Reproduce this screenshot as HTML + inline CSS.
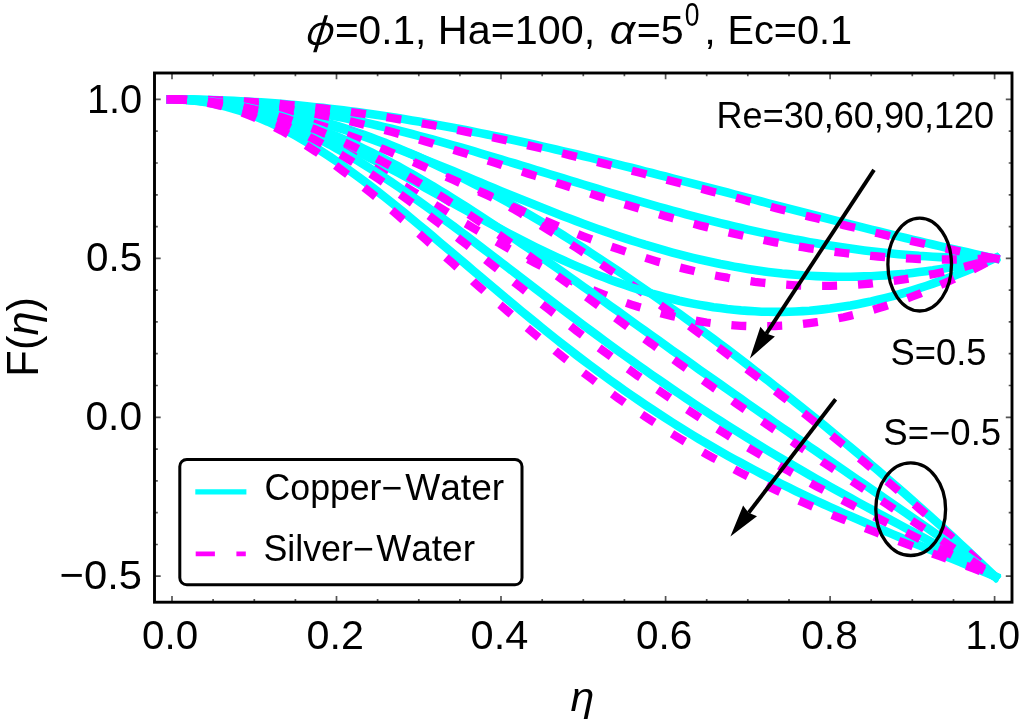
<!DOCTYPE html>
<html><head><meta charset="utf-8"><title>F(eta) velocity profiles</title>
<style>
html,body{margin:0;padding:0;background:#fff;}
body{width:1024px;height:722px;overflow:hidden;}
svg{display:block;}
text{font-family:"Liberation Sans","DejaVu Sans",sans-serif;fill:#000;font-kerning:none;}
.phi{font-family:"DejaVu Sans Light","DejaVu Sans",sans-serif;stroke:#000;stroke-width:1.1px;}
</style></head><body>
<svg width="1024" height="722" viewBox="0 0 1024 722">
<rect width="1024" height="722" fill="#fff"/>
<!-- curves: cyan solid = Copper-Water, magenta dashed = Silver-Water -->
<g fill="none" stroke-linejoin="round">
<path stroke="#00ffff" stroke-width="8.6" d="M166.7,99.4 L172.0,99.4 L178.9,99.4 L185.7,99.6 L192.6,99.8 L199.4,100.1 L206.3,100.6 L213.1,101.1 L220.0,101.7 L226.8,102.4 L233.7,103.2 L240.6,104.0 L247.4,105.0 L254.3,106.1 L261.1,107.2 L268.0,108.5 L274.8,109.8 L281.7,111.2 L288.5,112.7 L295.4,114.3 L302.2,116.0 L309.1,117.8 L316.0,119.6 L322.8,121.6 L329.7,123.6 L336.5,125.7 L343.4,127.9 L350.2,130.1 L357.1,132.5 L363.9,134.9 L370.8,137.4 L377.6,140.0 L384.5,142.6 L391.4,145.4 L398.2,148.2 L405.1,151.1 L411.9,154.0 L418.8,157.0 L425.6,160.1 L432.5,163.3 L439.3,166.5 L446.2,169.8 L453.1,173.2 L459.9,176.6 L466.8,180.1 L473.6,183.7 L480.5,187.3 L487.3,190.9 L494.2,194.7 L501.0,198.5 L507.9,202.3 L514.8,206.2 L521.6,210.2 L528.5,214.2 L535.3,218.2 L542.2,222.3 L549.0,226.5 L555.9,230.7 L562.7,235.0 L569.6,239.3 L576.4,243.6 L583.3,248.0 L590.2,252.5 L597.0,257.0 L603.9,261.5 L610.7,266.1 L617.6,270.7 L624.4,275.3 L631.3,280.0 L638.1,284.7 L645.0,289.5 L651.9,294.3 L658.7,299.1 L665.6,304.0 L672.4,308.9 L679.3,313.8 L686.1,318.8 L693.0,323.8 L699.8,328.9 L706.7,333.9 L713.5,339.0 L720.4,344.2 L727.3,349.3 L734.1,354.5 L741.0,359.7 L747.8,365.0 L754.7,370.3 L761.5,375.6 L768.4,380.9 L775.2,386.3 L782.1,391.7 L789.0,397.1 L795.8,402.6 L802.7,408.1 L809.5,413.6 L816.4,419.2 L823.2,424.7 L830.1,430.4 L836.9,436.0 L843.8,441.7 L850.6,447.4 L857.5,453.1 L864.4,458.9 L871.2,464.7 L878.1,470.6 L884.9,476.4 L891.8,482.4 L898.6,488.3 L905.5,494.3 L912.3,500.3 L919.2,506.4 L926.0,512.5 L932.9,518.7 L939.8,524.9 L946.6,531.1 L953.5,537.4 L960.3,543.8 L967.2,550.2 L974.0,556.6 L980.9,563.1 L987.7,569.6 L994.6,576.2 L998.4,579.9"/>
<path stroke="#ff00ff" stroke-width="8.3" d="M166.7,99.4 L172.0,99.4 L178.9,99.4 L185.7,99.6 L187.0,99.6 M207.9,100.7 L213.1,101.1 L220.0,101.8 L222.8,102.1 M243.5,104.7 L247.4,105.3 L254.3,106.4 L258.3,107.1 M278.9,111.1 L281.7,111.7 L288.5,113.3 L293.5,114.5 M313.7,119.8 L316.0,120.5 L322.8,122.5 L328.1,124.1 M347.9,130.6 L350.2,131.4 L357.1,133.8 L362.0,135.6 M381.5,143.1 L384.5,144.3 L391.4,147.2 L395.4,148.9 M414.5,157.3 L418.8,159.2 L425.6,162.4 L428.1,163.6 M446.9,172.8 L453.1,175.8 L460.3,179.6 M478.7,189.4 L480.5,190.3 L487.3,194.1 L491.9,196.6 M510.0,207.0 L514.8,209.7 L521.6,213.8 L523.0,214.6 M540.9,225.4 L542.2,226.2 L549.0,230.4 L553.6,233.3 M571.2,244.5 L576.4,247.9 L583.8,252.7 M601.3,264.2 L603.9,266.0 L610.7,270.6 L613.7,272.6 M630.9,284.4 L638.1,289.4 L643.2,293.0 M660.3,305.0 L665.6,308.8 L672.5,313.8 M689.4,326.0 L693.0,328.6 L699.8,333.7 L701.5,334.9 M718.3,347.4 L720.4,348.9 L727.3,354.1 L730.3,356.4 M746.9,369.0 L747.8,369.7 L754.7,374.9 L758.9,378.1 M775.4,390.9 L782.1,396.1 L787.2,400.1 M803.6,413.1 L809.5,417.7 L815.4,422.4 M831.7,435.5 L836.9,439.8 L843.3,444.9 M859.5,458.2 L864.4,462.2 L871.0,467.8 M887.1,481.2 L891.8,485.1 L898.5,490.8 M914.4,504.4 L919.2,508.5 L925.8,514.2 M941.5,528.0 L946.6,532.6 L952.7,538.0 M968.2,552.0 L974.0,557.2 L979.3,562.1"/>
<path stroke="#00ffff" stroke-width="8.6" d="M166.7,99.4 L172.0,99.4 L178.9,99.4 L185.7,99.5 L192.6,99.6 L199.4,99.7 L206.3,99.8 L213.1,100.0 L220.0,100.3 L226.8,100.5 L233.7,100.8 L240.6,101.2 L247.4,101.6 L254.3,102.0 L261.1,102.4 L268.0,102.9 L274.8,103.4 L281.7,103.9 L288.5,104.5 L295.4,105.1 L302.2,105.8 L309.1,106.5 L316.0,107.2 L322.8,107.9 L329.7,108.7 L336.5,109.5 L343.4,110.3 L350.2,111.2 L357.1,112.1 L363.9,113.0 L370.8,114.0 L377.6,115.0 L384.5,116.0 L391.4,117.1 L398.2,118.1 L405.1,119.2 L411.9,120.4 L418.8,121.5 L425.6,122.7 L432.5,123.9 L439.3,125.2 L446.2,126.4 L453.1,127.7 L459.9,129.0 L466.8,130.3 L473.6,131.7 L480.5,133.1 L487.3,134.5 L494.2,135.9 L501.0,137.3 L507.9,138.8 L514.8,140.3 L521.6,141.8 L528.5,143.3 L535.3,144.8 L542.2,146.4 L549.0,147.9 L555.9,149.5 L562.7,151.1 L569.6,152.7 L576.4,154.3 L583.3,156.0 L590.2,157.6 L597.0,159.3 L603.9,161.0 L610.7,162.7 L617.6,164.4 L624.4,166.1 L631.3,167.8 L638.1,169.5 L645.0,171.3 L651.9,173.0 L658.7,174.8 L665.6,176.5 L672.4,178.3 L679.3,180.1 L686.1,181.8 L693.0,183.6 L699.8,185.4 L706.7,187.2 L713.5,189.0 L720.4,190.7 L727.3,192.5 L734.1,194.3 L741.0,196.1 L747.8,197.9 L754.7,199.7 L761.5,201.5 L768.4,203.3 L775.2,205.1 L782.1,206.9 L789.0,208.6 L795.8,210.4 L802.7,212.2 L809.5,214.0 L816.4,215.7 L823.2,217.5 L830.1,219.2 L836.9,221.0 L843.8,222.7 L850.6,224.4 L857.5,226.2 L864.4,227.9 L871.2,229.6 L878.1,231.3 L884.9,233.0 L891.8,234.6 L898.6,236.3 L905.5,238.0 L912.3,239.6 L919.2,241.2 L926.0,242.9 L932.9,244.5 L939.8,246.1 L946.6,247.7 L953.5,249.2 L960.3,250.8 L967.2,252.3 L974.0,253.9 L980.9,255.4 L987.7,256.9 L994.6,258.4 L999.8,259.5"/>
<path stroke="#00ffff" stroke-width="8.6" d="M166.7,99.4 L172.0,99.4 L178.9,99.4 L185.7,99.5 L192.6,99.7 L199.4,99.9 L206.3,100.2 L213.1,100.5 L220.0,100.9 L226.8,101.4 L233.7,101.9 L240.6,102.5 L247.4,103.1 L254.3,103.8 L261.1,104.6 L268.0,105.4 L274.8,106.3 L281.7,107.2 L288.5,108.2 L295.4,109.2 L302.2,110.3 L309.1,111.5 L316.0,112.6 L322.8,113.9 L329.7,115.2 L336.5,116.5 L343.4,117.9 L350.2,119.3 L357.1,120.8 L363.9,122.3 L370.8,123.9 L377.6,125.5 L384.5,127.1 L391.4,128.8 L398.2,130.5 L405.1,132.2 L411.9,134.0 L418.8,135.8 L425.6,137.7 L432.5,139.5 L439.3,141.4 L446.2,143.3 L453.1,145.3 L459.9,147.2 L466.8,149.2 L473.6,151.2 L480.5,153.3 L487.3,155.3 L494.2,157.3 L501.0,159.4 L507.9,161.5 L514.8,163.5 L521.6,165.6 L528.5,167.7 L535.3,169.8 L542.2,171.9 L549.0,174.0 L555.9,176.1 L562.7,178.2 L569.6,180.3 L576.4,182.4 L583.3,184.5 L590.2,186.6 L597.0,188.7 L603.9,190.8 L610.7,192.8 L617.6,194.9 L624.4,196.9 L631.3,198.9 L638.1,200.9 L645.0,202.9 L651.9,204.8 L658.7,206.8 L665.6,208.7 L672.4,210.6 L679.3,212.4 L686.1,214.3 L693.0,216.1 L699.8,217.9 L706.7,219.6 L713.5,221.4 L720.4,223.1 L727.3,224.7 L734.1,226.4 L741.0,228.0 L747.8,229.6 L754.7,231.1 L761.5,232.6 L768.4,234.1 L775.2,235.5 L782.1,236.9 L789.0,238.2 L795.8,239.6 L802.7,240.8 L809.5,242.1 L816.4,243.3 L823.2,244.4 L830.1,245.5 L836.9,246.6 L843.8,247.6 L850.6,248.6 L857.5,249.5 L864.4,250.4 L871.2,251.2 L878.1,252.0 L884.9,252.8 L891.8,253.5 L898.6,254.2 L905.5,254.8 L912.3,255.3 L919.2,255.9 L926.0,256.3 L932.9,256.7 L939.8,257.1 L946.6,257.4 L953.5,257.7 L960.3,257.9 L967.2,258.1 L974.0,258.3 L980.9,258.3 L987.7,258.4 L994.6,258.3 L999.9,258.3"/>
<path stroke="#00ffff" stroke-width="8.6" d="M166.7,99.4 L172.0,99.4 L178.9,99.5 L185.7,99.6 L192.6,99.9 L199.4,100.2 L206.3,100.7 L213.1,101.3 L220.0,101.9 L226.8,102.7 L233.7,103.6 L240.6,104.5 L247.4,105.6 L254.3,106.8 L261.1,108.0 L268.0,109.3 L274.8,110.8 L281.7,112.3 L288.5,113.9 L295.4,115.6 L302.2,117.4 L309.1,119.2 L316.0,121.1 L322.8,123.1 L329.7,125.2 L336.5,127.3 L343.4,129.5 L350.2,131.8 L357.1,134.1 L363.9,136.5 L370.8,138.9 L377.6,141.4 L384.5,143.9 L391.4,146.5 L398.2,149.1 L405.1,151.8 L411.9,154.5 L418.8,157.2 L425.6,159.9 L432.5,162.7 L439.3,165.5 L446.2,168.3 L453.1,171.1 L459.9,174.0 L466.8,176.8 L473.6,179.7 L480.5,182.5 L487.3,185.4 L494.2,188.2 L501.0,191.1 L507.9,193.9 L514.8,196.7 L521.6,199.5 L528.5,202.3 L535.3,205.1 L542.2,207.8 L549.0,210.6 L555.9,213.3 L562.7,215.9 L569.6,218.6 L576.4,221.1 L583.3,223.7 L590.2,226.2 L597.0,228.7 L603.9,231.1 L610.7,233.5 L617.6,235.8 L624.4,238.1 L631.3,240.4 L638.1,242.5 L645.0,244.7 L651.9,246.7 L658.7,248.7 L665.6,250.7 L672.4,252.6 L679.3,254.4 L686.1,256.2 L693.0,257.9 L699.8,259.5 L706.7,261.0 L713.5,262.5 L720.4,264.0 L727.3,265.3 L734.1,266.6 L741.0,267.8 L747.8,268.9 L754.7,270.0 L761.5,271.0 L768.4,271.9 L775.2,272.7 L782.1,273.5 L789.0,274.1 L795.8,274.7 L802.7,275.3 L809.5,275.7 L816.4,276.1 L823.2,276.4 L830.1,276.6 L836.9,276.7 L843.8,276.8 L850.6,276.7 L857.5,276.6 L864.4,276.4 L871.2,276.2 L878.1,275.8 L884.9,275.4 L891.8,274.9 L898.6,274.3 L905.5,273.7 L912.3,272.9 L919.2,272.1 L926.0,271.2 L932.9,270.3 L939.8,269.2 L946.6,268.1 L953.5,267.0 L960.3,265.7 L967.2,264.4 L974.0,263.0 L980.9,261.5 L987.7,260.0 L994.6,258.3 L999.8,257.1"/>
<path stroke="#00ffff" stroke-width="8.6" d="M166.7,99.3 L172.0,99.4 L178.9,99.5 L185.7,99.7 L192.6,100.1 L199.4,100.7 L206.3,101.4 L213.1,102.3 L220.0,103.3 L226.8,104.5 L233.7,105.8 L240.6,107.3 L247.4,108.9 L254.3,110.7 L261.1,112.6 L268.0,114.6 L274.8,116.8 L281.7,119.1 L288.5,121.5 L295.4,124.0 L302.2,126.7 L309.1,129.4 L316.0,132.3 L322.8,135.2 L329.7,138.3 L336.5,141.4 L343.4,144.7 L350.2,148.0 L357.1,151.4 L363.9,154.8 L370.8,158.3 L377.6,161.9 L384.5,165.5 L391.4,169.1 L398.2,172.8 L405.1,176.6 L411.9,180.3 L418.8,184.1 L425.6,187.9 L432.5,191.7 L439.3,195.5 L446.2,199.4 L453.1,203.2 L459.9,207.0 L466.8,210.8 L473.6,214.6 L480.5,218.3 L487.3,222.0 L494.2,225.7 L501.0,229.4 L507.9,233.0 L514.8,236.6 L521.6,240.1 L528.5,243.6 L535.3,247.0 L542.2,250.3 L549.0,253.6 L555.9,256.9 L562.7,260.0 L569.6,263.1 L576.4,266.1 L583.3,269.0 L590.2,271.9 L597.0,274.7 L603.9,277.3 L610.7,279.9 L617.6,282.4 L624.4,284.8 L631.3,287.2 L638.1,289.4 L645.0,291.5 L651.9,293.6 L658.7,295.5 L665.6,297.3 L672.4,299.0 L679.3,300.7 L686.1,302.2 L693.0,303.6 L699.8,304.9 L706.7,306.1 L713.5,307.2 L720.4,308.1 L727.3,309.0 L734.1,309.7 L741.0,310.4 L747.8,310.9 L754.7,311.3 L761.5,311.7 L768.4,311.8 L775.2,311.9 L782.1,311.9 L789.0,311.8 L795.8,311.5 L802.7,311.1 L809.5,310.7 L816.4,310.1 L823.2,309.4 L830.1,308.6 L836.9,307.6 L843.8,306.6 L850.6,305.5 L857.5,304.2 L864.4,302.8 L871.2,301.4 L878.1,299.8 L884.9,298.1 L891.8,296.4 L898.6,294.5 L905.5,292.5 L912.3,290.4 L919.2,288.2 L926.0,286.0 L932.9,283.6 L939.8,281.1 L946.6,278.6 L953.5,275.9 L960.3,273.2 L967.2,270.4 L974.0,267.5 L980.9,264.5 L987.7,261.5 L994.6,258.3 L999.4,256.2"/>
<path stroke="#ff00ff" stroke-width="8.3" d="M166.7,99.4 L172.0,99.4 L178.9,99.4 L185.7,99.5 L187.0,99.5 M207.9,99.9 L213.1,100.1 L220.0,100.3 L222.9,100.4 M243.8,101.5 L247.4,101.7 L254.3,102.1 L258.7,102.4 M279.6,104.0 L281.7,104.2 L288.5,104.8 L294.5,105.4 M315.3,107.5 L322.8,108.4 L330.2,109.3 M350.9,112.0 L357.1,112.8 L363.9,113.8 L365.8,114.1 M386.4,117.2 L391.4,118.0 L398.2,119.2 L401.2,119.7 M421.8,123.3 L425.6,124.0 L432.5,125.2 L436.6,126.0 M457.1,130.0 L459.9,130.5 L466.8,131.9 L471.8,133.0 M492.2,137.3 L494.2,137.7 L501.0,139.2 L506.9,140.5 M527.3,145.1 L528.5,145.4 L535.3,147.0 L541.9,148.5 M562.2,153.3 L569.6,155.1 L576.8,156.9 M597.1,161.9 L603.9,163.6 L611.6,165.6 M631.9,170.7 L638.1,172.3 L645.0,174.1 L646.4,174.5 M666.6,179.7 L672.4,181.2 L679.3,183.0 L681.2,183.5 M701.4,188.8 L706.7,190.1 L713.5,191.9 L715.9,192.5 M736.1,197.8 L741.0,199.1 L747.8,200.9 L750.6,201.6 M770.9,206.8 L775.2,207.9 L782.1,209.7 L785.4,210.5 M805.7,215.7 L809.5,216.6 L816.4,218.3 L820.2,219.3 M840.5,224.3 L843.8,225.1 L850.6,226.8 L855.1,227.8 M875.4,232.7 L878.1,233.3 L884.9,234.9 L890.0,236.1 M910.4,240.7 L912.3,241.2 L919.2,242.7 L925.0,244.0 M945.5,248.4 L946.6,248.6 L953.5,250.1 L960.2,251.5 M980.6,255.6 L987.7,257.0 L994.6,258.3 L999.8,259.4"/>
<path stroke="#ff00ff" stroke-width="8.3" d="M166.7,99.4 L172.0,99.4 L178.9,99.4 L185.7,99.5 L187.0,99.6 M207.9,100.3 L213.1,100.6 L220.0,101.1 L222.9,101.3 M243.7,103.1 L247.4,103.5 L254.3,104.3 L258.6,104.8 M279.3,107.7 L281.7,108.0 L288.5,109.1 L294.1,110.1 M314.7,113.8 L316.0,114.0 L322.8,115.4 L329.4,116.8 M349.8,121.3 L357.1,123.0 L364.3,124.8 M384.6,130.0 L391.4,131.8 L399.1,133.9 M419.2,139.5 L425.6,141.4 L432.5,143.4 L433.6,143.8 M453.6,149.8 L459.9,151.8 L466.8,153.9 L467.9,154.3 M487.8,160.6 L494.2,162.6 L501.0,164.8 L502.1,165.2 M522.0,171.6 L528.5,173.7 L535.3,175.9 L536.3,176.2 M556.2,182.7 L562.7,184.8 L570.4,187.3 M590.3,193.6 L597.0,195.7 L604.7,198.1 M624.6,204.2 L631.3,206.2 L639.0,208.5 M659.1,214.3 L665.6,216.2 L672.4,218.1 L673.5,218.4 M693.7,223.8 L699.8,225.4 L706.7,227.1 L708.3,227.5 M728.6,232.4 L734.1,233.7 L741.0,235.2 L743.2,235.7 M763.6,240.0 L768.4,241.0 L775.2,242.3 L778.4,242.9 M798.9,246.6 L802.7,247.2 L809.5,248.3 L813.8,248.9 M834.5,251.9 L836.9,252.2 L843.8,253.0 L849.3,253.7 M870.1,255.8 L871.2,255.9 L878.1,256.5 L885.1,257.1 M905.9,258.4 L912.3,258.7 L919.2,259.0 L920.9,259.0 M941.8,259.5 L946.6,259.5 L953.5,259.5 L956.8,259.5 M977.7,259.0 L980.9,258.9 L987.7,258.7 L992.7,258.4"/>
<path stroke="#ff00ff" stroke-width="8.3" d="M166.7,99.4 L172.0,99.4 L178.9,99.5 L185.7,99.6 L187.0,99.7 M207.9,101.0 L213.1,101.5 L220.0,102.3 L222.8,102.6 M243.4,105.8 L247.4,106.5 L254.3,107.8 L258.2,108.6 M278.5,113.3 L281.7,114.1 L288.5,115.9 L293.0,117.1 M313.0,123.1 L316.0,124.1 L322.8,126.3 L327.3,127.8 M347.0,134.9 L350.2,136.1 L357.1,138.7 L361.0,140.2 M380.4,148.0 L384.5,149.7 L391.4,152.5 L394.2,153.8 M413.4,162.0 L418.8,164.4 L425.6,167.4 L427.1,168.1 M446.2,176.7 L453.1,179.8 L459.9,182.9 M478.9,191.5 L480.5,192.2 L487.3,195.3 L492.6,197.7 M511.6,206.2 L514.8,207.6 L521.6,210.6 L525.4,212.3 M544.6,220.5 L549.0,222.4 L555.9,225.3 L558.4,226.3 M577.8,234.1 L583.3,236.3 L590.2,238.9 L591.8,239.5 M611.4,246.7 L617.6,248.8 L624.4,251.2 L625.6,251.6 M645.5,257.9 L651.9,259.9 L658.7,261.9 L659.9,262.2 M680.1,267.6 L686.1,269.1 L693.0,270.8 L694.6,271.2 M715.1,275.5 L720.4,276.5 L727.3,277.7 L729.8,278.2 M750.5,281.2 L754.7,281.8 L761.5,282.6 L765.4,283.0 M786.2,284.7 L789.0,284.9 L795.8,285.3 L801.2,285.5 M822.1,285.9 L823.2,285.9 L830.1,285.8 L837.1,285.6 M858.0,284.6 L864.4,284.1 L871.2,283.5 L872.9,283.3 M893.7,280.9 L898.6,280.2 L905.5,279.2 L908.5,278.7 M929.1,274.9 L932.9,274.2 L939.8,272.7 L943.8,271.8 M964.1,266.9 L967.2,266.1 L974.0,264.3 L978.6,263.0"/>
<path stroke="#ff00ff" stroke-width="8.3" d="M166.7,99.3 L172.0,99.4 L178.9,99.5 L185.7,99.8 L187.0,99.9 M207.8,101.9 L213.1,102.7 L220.0,103.9 L222.6,104.4 M242.9,109.1 L247.4,110.3 L254.3,112.3 L257.3,113.3 M277.1,120.1 L281.7,121.9 L288.5,124.6 L291.0,125.6 M310.1,134.1 L316.0,136.9 L323.6,140.6 M342.2,150.2 L343.4,150.8 L350.2,154.6 L355.4,157.4 M373.5,167.7 L377.6,170.1 L384.5,174.2 L386.5,175.3 M404.4,186.1 L411.9,190.7 L417.2,193.9 M435.0,204.8 L439.3,207.4 L446.2,211.6 L447.8,212.6 M465.7,223.5 L466.8,224.1 L473.6,228.2 L478.6,231.1 M496.6,241.7 L501.0,244.2 L507.9,248.1 L509.7,249.1 M528.0,259.1 L535.3,263.0 L541.3,266.1 M560.0,275.4 L562.7,276.7 L569.6,279.9 L573.6,281.8 M592.7,290.1 L597.0,291.9 L603.9,294.6 L606.7,295.7 M626.3,302.9 L631.3,304.6 L638.1,306.8 L640.6,307.5 M660.7,313.2 L665.6,314.5 L672.4,316.1 L675.2,316.7 M695.7,320.7 L699.8,321.4 L706.7,322.5 L710.6,323.0 M731.4,325.2 L734.1,325.4 L741.0,325.8 L746.3,326.0 M767.2,326.2 L768.4,326.2 L775.2,326.0 L782.2,325.7 M803.0,323.9 L809.5,323.1 L816.4,322.2 L817.9,322.0 M838.5,318.3 L843.8,317.2 L850.6,315.6 L853.1,315.0 M873.3,309.7 L878.1,308.3 L884.9,306.2 L887.7,305.3 M907.4,298.4 L912.3,296.5 L919.2,293.9 L921.4,293.0 M940.6,284.9 L946.6,282.2 L954.3,278.7 M973.1,269.5 L974.0,269.1 L980.9,265.6 L986.4,262.7"/>
<path stroke="#00ffff" stroke-width="8.6" d="M166.7,99.3 L172.0,99.4 L178.9,99.5 L185.7,99.7 L192.6,100.0 L199.4,100.5 L206.3,101.1 L213.1,101.8 L220.0,102.7 L226.8,103.7 L233.7,104.8 L240.6,106.0 L247.4,107.4 L254.3,108.9 L261.1,110.6 L268.0,112.3 L274.8,114.2 L281.7,116.2 L288.5,118.3 L295.4,120.5 L302.2,122.9 L309.1,125.3 L316.0,127.9 L322.8,130.6 L329.7,133.4 L336.5,136.2 L343.4,139.2 L350.2,142.3 L357.1,145.5 L363.9,148.8 L370.8,152.1 L377.6,155.6 L384.5,159.1 L391.4,162.7 L398.2,166.4 L405.1,170.2 L411.9,174.1 L418.8,178.0 L425.6,182.0 L432.5,186.0 L439.3,190.2 L446.2,194.3 L453.1,198.6 L459.9,202.9 L466.8,207.2 L473.6,211.6 L480.5,216.1 L487.3,220.5 L494.2,225.1 L501.0,229.6 L507.9,234.3 L514.8,238.9 L521.6,243.6 L528.5,248.3 L535.3,253.0 L542.2,257.7 L549.0,262.5 L555.9,267.3 L562.7,272.1 L569.6,277.0 L576.4,281.8 L583.3,286.7 L590.2,291.6 L597.0,296.4 L603.9,301.3 L610.7,306.2 L617.6,311.1 L624.4,316.0 L631.3,320.9 L638.1,325.9 L645.0,330.8 L651.9,335.7 L658.7,340.6 L665.6,345.5 L672.4,350.4 L679.3,355.3 L686.1,360.1 L693.0,365.0 L699.8,369.9 L706.7,374.7 L713.5,379.6 L720.4,384.4 L727.3,389.3 L734.1,394.1 L741.0,398.9 L747.8,403.7 L754.7,408.5 L761.5,413.3 L768.4,418.1 L775.2,422.9 L782.1,427.7 L789.0,432.4 L795.8,437.2 L802.7,441.9 L809.5,446.7 L816.4,451.4 L823.2,456.1 L830.1,460.8 L836.9,465.6 L843.8,470.3 L850.6,475.0 L857.5,479.7 L864.4,484.4 L871.2,489.1 L878.1,493.9 L884.9,498.6 L891.8,503.3 L898.6,508.1 L905.5,512.8 L912.3,517.6 L919.2,522.3 L926.0,527.1 L932.9,531.9 L939.8,536.8 L946.6,541.6 L953.5,546.5 L960.3,551.4 L967.2,556.3 L974.0,561.2 L980.9,566.2 L987.7,571.2 L994.6,576.3 L998.9,579.4"/>
<path stroke="#00ffff" stroke-width="8.6" d="M166.7,99.3 L172.0,99.4 L178.9,99.5 L185.7,99.8 L192.6,100.2 L199.4,100.9 L206.3,101.7 L213.1,102.7 L220.0,103.8 L226.8,105.2 L233.7,106.7 L240.6,108.4 L247.4,110.2 L254.3,112.3 L261.1,114.5 L268.0,116.8 L274.8,119.3 L281.7,122.0 L288.5,124.8 L295.4,127.8 L302.2,130.9 L309.1,134.1 L316.0,137.5 L322.8,141.0 L329.7,144.6 L336.5,148.4 L343.4,152.2 L350.2,156.2 L357.1,160.3 L363.9,164.5 L370.8,168.8 L377.6,173.1 L384.5,177.6 L391.4,182.2 L398.2,186.8 L405.1,191.5 L411.9,196.3 L418.8,201.1 L425.6,206.0 L432.5,210.9 L439.3,215.9 L446.2,221.0 L453.1,226.0 L459.9,231.2 L466.8,236.3 L473.6,241.5 L480.5,246.7 L487.3,251.9 L494.2,257.1 L501.0,262.4 L507.9,267.6 L514.8,272.9 L521.6,278.2 L528.5,283.4 L535.3,288.7 L542.2,293.9 L549.0,299.2 L555.9,304.4 L562.7,309.6 L569.6,314.8 L576.4,319.9 L583.3,325.1 L590.2,330.2 L597.0,335.3 L603.9,340.4 L610.7,345.4 L617.6,350.4 L624.4,355.4 L631.3,360.3 L638.1,365.2 L645.0,370.0 L651.9,374.9 L658.7,379.6 L665.6,384.4 L672.4,389.1 L679.3,393.8 L686.1,398.4 L693.0,403.0 L699.8,407.5 L706.7,412.0 L713.5,416.5 L720.4,420.9 L727.3,425.3 L734.1,429.6 L741.0,433.9 L747.8,438.2 L754.7,442.4 L761.5,446.6 L768.4,450.8 L775.2,454.9 L782.1,459.0 L789.0,463.0 L795.8,467.0 L802.7,471.0 L809.5,475.0 L816.4,478.9 L823.2,482.8 L830.1,486.7 L836.9,490.5 L843.8,494.3 L850.6,498.1 L857.5,501.9 L864.4,505.7 L871.2,509.4 L878.1,513.2 L884.9,516.9 L891.8,520.6 L898.6,524.3 L905.5,528.0 L912.3,531.6 L919.2,535.3 L926.0,539.0 L932.9,542.7 L939.8,546.4 L946.6,550.0 L953.5,553.7 L960.3,557.4 L967.2,561.2 L974.0,564.9 L980.9,568.7 L987.7,572.4 L994.6,576.2 L999.2,578.8"/>
<path stroke="#00ffff" stroke-width="8.6" d="M166.7,99.3 L172.0,99.4 L178.9,99.5 L185.7,99.9 L192.6,100.5 L199.4,101.3 L206.3,102.3 L213.1,103.6 L220.0,105.1 L226.8,106.8 L233.7,108.8 L240.6,111.0 L247.4,113.4 L254.3,115.9 L261.1,118.7 L268.0,121.7 L274.8,124.9 L281.7,128.3 L288.5,131.8 L295.4,135.6 L302.2,139.5 L309.1,143.5 L316.0,147.7 L322.8,152.1 L329.7,156.6 L336.5,161.3 L343.4,166.0 L350.2,170.9 L357.1,175.9 L363.9,181.0 L370.8,186.2 L377.6,191.5 L384.5,196.8 L391.4,202.3 L398.2,207.8 L405.1,213.4 L411.9,219.0 L418.8,224.7 L425.6,230.4 L432.5,236.1 L439.3,241.9 L446.2,247.7 L453.1,253.5 L459.9,259.3 L466.8,265.1 L473.6,270.9 L480.5,276.8 L487.3,282.6 L494.2,288.3 L501.0,294.1 L507.9,299.8 L514.8,305.5 L521.6,311.2 L528.5,316.9 L535.3,322.4 L542.2,328.0 L549.0,333.5 L555.9,339.0 L562.7,344.4 L569.6,349.7 L576.4,355.0 L583.3,360.2 L590.2,365.4 L597.0,370.5 L603.9,375.6 L610.7,380.6 L617.6,385.5 L624.4,390.4 L631.3,395.2 L638.1,399.9 L645.0,404.6 L651.9,409.2 L658.7,413.7 L665.6,418.1 L672.4,422.5 L679.3,426.9 L686.1,431.1 L693.0,435.3 L699.8,439.5 L706.7,443.5 L713.5,447.5 L720.4,451.5 L727.3,455.4 L734.1,459.2 L741.0,462.9 L747.8,466.6 L754.7,470.3 L761.5,473.9 L768.4,477.4 L775.2,480.9 L782.1,484.3 L789.0,487.7 L795.8,491.1 L802.7,494.4 L809.5,497.6 L816.4,500.8 L823.2,504.0 L830.1,507.1 L836.9,510.2 L843.8,513.3 L850.6,516.3 L857.5,519.3 L864.4,522.3 L871.2,525.2 L878.1,528.1 L884.9,531.0 L891.8,533.9 L898.6,536.7 L905.5,539.6 L912.3,542.4 L919.2,545.2 L926.0,548.0 L932.9,550.8 L939.8,553.6 L946.6,556.4 L953.5,559.2 L960.3,562.1 L967.2,564.9 L974.0,567.7 L980.9,570.5 L987.7,573.4 L994.6,576.2 L999.5,578.3"/>
<path stroke="#ff00ff" stroke-width="8.3" d="M166.7,99.3 L172.0,99.4 L178.9,99.5 L185.7,99.7 L187.0,99.8 M207.8,101.4 L213.1,102.0 L220.0,102.9 L222.7,103.3 M243.3,107.1 L247.4,108.0 L254.3,109.6 L257.9,110.5 M278.0,116.1 L281.7,117.3 L288.5,119.5 L292.2,120.8 M311.8,128.1 L316.0,129.7 L322.8,132.6 L325.7,133.8 M344.7,142.4 L350.2,145.0 L357.1,148.3 L358.2,148.9 M376.8,158.5 L384.5,162.7 L390.0,165.7 M408.1,176.1 L411.9,178.4 L418.8,182.5 L421.0,183.8 M438.7,194.8 L446.2,199.6 L451.4,202.9 M468.8,214.4 L473.6,217.6 L481.3,222.7 M498.6,234.5 L501.0,236.2 L507.9,241.0 L510.9,243.1 M528.0,255.1 L535.3,260.3 L540.2,263.8 M557.2,275.9 L562.7,279.9 L569.4,284.7 M586.4,296.9 L590.2,299.6 L597.0,304.6 L598.5,305.7 M615.5,317.9 L617.6,319.4 L624.4,324.3 L627.6,326.7 M644.6,338.9 L651.9,344.0 L656.8,347.6 M673.8,359.7 L679.3,363.6 L686.1,368.4 M703.2,380.4 L706.7,382.9 L713.5,387.7 L715.5,389.0 M732.6,400.9 L734.1,402.0 L741.0,406.7 L745.0,409.5 M762.2,421.3 L768.4,425.5 L774.6,429.7 M792.0,441.4 L795.8,444.0 L802.7,448.6 L804.4,449.7 M821.8,461.3 L823.2,462.3 L830.1,466.8 L834.3,469.6 M851.8,481.1 L857.5,484.9 L864.3,489.4 M881.8,500.8 L884.9,502.9 L891.8,507.4 L894.3,509.1 M911.8,520.6 L919.2,525.5 L924.3,528.8 M941.7,540.4 L946.6,543.7 L954.2,548.7 M971.5,560.4 L974.0,562.1 L980.9,566.8 L983.9,568.9"/>
<path stroke="#ff00ff" stroke-width="8.3" d="M166.7,99.3 L172.0,99.4 L178.9,99.5 L185.7,99.8 L187.0,99.9 M207.8,102.1 L213.1,102.9 L220.0,104.2 L222.5,104.7 M242.8,109.8 L247.4,111.1 L254.3,113.3 L257.1,114.3 M276.7,121.7 L281.7,123.8 L288.5,126.8 L290.4,127.7 M309.2,136.8 L316.0,140.4 L322.4,143.9 M340.5,154.4 L343.4,156.2 L350.2,160.4 L353.2,162.3 M370.7,173.7 L377.6,178.4 L383.1,182.2 M400.2,194.3 L405.1,197.8 L412.3,203.1 M429.0,215.7 L432.5,218.3 L439.3,223.5 L440.9,224.8 M457.5,237.6 L459.9,239.5 L466.8,244.8 L469.3,246.8 M485.7,259.7 L487.3,261.0 L494.2,266.4 L497.5,269.0 M513.9,282.0 L514.8,282.7 L521.6,288.1 L525.6,291.3 M542.1,304.2 L549.0,309.6 L553.9,313.4 M570.5,326.1 L576.4,330.7 L582.4,335.2 M599.1,347.8 L603.9,351.3 L611.2,356.7 M628.1,368.9 L631.3,371.2 L638.1,376.1 L640.4,377.6 M657.5,389.6 L658.7,390.4 L665.6,395.1 L669.9,398.0 M687.3,409.6 L693.0,413.3 L699.9,417.8 M717.5,429.0 L720.4,430.8 L727.3,435.0 L730.3,436.9 M748.2,447.7 L754.7,451.5 L761.1,455.3 M779.2,465.7 L782.1,467.4 L789.0,471.2 L792.3,473.1 M810.6,483.1 L816.4,486.3 L823.8,490.2 M842.3,500.0 L843.8,500.8 L850.6,504.3 L855.6,506.9 M874.2,516.4 L878.1,518.3 L884.9,521.7 L887.6,523.1 M906.3,532.4 L912.3,535.4 L919.8,539.1 M938.5,548.3 L939.8,548.9 L946.6,552.3 L952.0,555.0 M970.7,564.2 L974.0,565.9 L980.9,569.3 L984.1,571.0"/>
<path stroke="#ff00ff" stroke-width="8.3" d="M166.7,99.3 L172.0,99.4 L178.9,99.5 L185.7,99.9 L187.0,100.0 M207.7,102.9 L213.1,104.0 L220.0,105.6 L222.3,106.3 M242.2,112.6 L247.4,114.6 L254.3,117.4 L256.1,118.2 M275.0,127.2 L281.7,130.7 L288.1,134.4 M306.0,145.2 L309.1,147.2 L316.0,151.7 L318.5,153.5 M335.6,165.5 L336.5,166.2 L343.4,171.3 L347.6,174.5 M364.1,187.4 L370.8,192.8 L375.7,196.8 M391.8,210.2 L398.2,215.7 L403.2,220.0 M419.0,233.6 L425.6,239.5 L430.2,243.5 M445.9,257.3 L453.1,263.6 L457.2,267.3 M472.9,281.1 L473.6,281.8 L480.5,287.8 L484.1,291.0 M499.9,304.7 L501.0,305.6 L507.9,311.5 L511.3,314.4 M527.3,327.9 L528.5,328.9 L535.3,334.6 L538.9,337.5 M555.1,350.6 L555.9,351.3 L562.7,356.7 L566.8,359.9 M583.4,372.7 L590.2,377.8 L595.4,381.7 M612.3,394.0 L617.6,397.8 L624.5,402.7 M641.8,414.4 L645.0,416.5 L651.9,421.0 L654.4,422.6 M672.0,433.8 L679.3,438.2 L684.9,441.6 M702.9,452.1 L706.7,454.3 L713.5,458.1 L716.0,459.4 M734.4,469.3 L741.0,472.8 L747.7,476.2 M766.5,485.5 L768.4,486.4 L775.2,489.7 L780.0,491.9 M799.0,500.6 L802.7,502.2 L809.5,505.2 L812.8,506.6 M832.0,514.8 L836.9,516.8 L843.8,519.6 L845.9,520.5 M865.3,528.2 L871.2,530.5 L878.1,533.1 L879.3,533.6 M898.8,541.0 L905.5,543.5 L912.9,546.3 M932.5,553.5 L939.8,556.1 L946.6,558.6 M966.2,565.8 L967.2,566.1 L974.0,568.6 L980.3,571.0"/>
</g>
<!-- frame + ticks -->
<path d="M172.0,602.2 L172.0,596.0 M172.0,73.0 L172.0,79.2 M213.1,602.2 L213.1,598.9 M213.1,73.0 L213.1,76.3 M254.3,602.2 L254.3,598.9 M254.3,73.0 L254.3,76.3 M295.4,602.2 L295.4,598.9 M295.4,73.0 L295.4,76.3 M336.5,602.2 L336.5,596.0 M336.5,73.0 L336.5,79.2 M377.6,602.2 L377.6,598.9 M377.6,73.0 L377.6,76.3 M418.8,602.2 L418.8,598.9 M418.8,73.0 L418.8,76.3 M459.9,602.2 L459.9,598.9 M459.9,73.0 L459.9,76.3 M501.0,602.2 L501.0,596.0 M501.0,73.0 L501.0,79.2 M542.2,602.2 L542.2,598.9 M542.2,73.0 L542.2,76.3 M583.3,602.2 L583.3,598.9 M583.3,73.0 L583.3,76.3 M624.4,602.2 L624.4,598.9 M624.4,73.0 L624.4,76.3 M665.6,602.2 L665.6,596.0 M665.6,73.0 L665.6,79.2 M706.7,602.2 L706.7,598.9 M706.7,73.0 L706.7,76.3 M747.8,602.2 L747.8,598.9 M747.8,73.0 L747.8,76.3 M789.0,602.2 L789.0,598.9 M789.0,73.0 L789.0,76.3 M830.1,602.2 L830.1,596.0 M830.1,73.0 L830.1,79.2 M871.2,602.2 L871.2,598.9 M871.2,73.0 L871.2,76.3 M912.3,602.2 L912.3,598.9 M912.3,73.0 L912.3,76.3 M953.5,602.2 L953.5,598.9 M953.5,73.0 L953.5,76.3 M994.6,602.2 L994.6,596.0 M994.6,73.0 L994.6,79.2 M154.5,576.2 L160.7,576.2 M1012.0,576.2 L1005.8,576.2 M154.5,544.5 L157.8,544.5 M1012.0,544.5 L1008.7,544.5 M154.5,512.7 L157.8,512.7 M1012.0,512.7 L1008.7,512.7 M154.5,480.9 L157.8,480.9 M1012.0,480.9 L1008.7,480.9 M154.5,449.1 L157.8,449.1 M1012.0,449.1 L1008.7,449.1 M154.5,417.3 L160.7,417.3 M1012.0,417.3 L1005.8,417.3 M154.5,385.5 L157.8,385.5 M1012.0,385.5 L1008.7,385.5 M154.5,353.7 L157.8,353.7 M1012.0,353.7 L1008.7,353.7 M154.5,321.9 L157.8,321.9 M1012.0,321.9 L1008.7,321.9 M154.5,290.1 L157.8,290.1 M1012.0,290.1 L1008.7,290.1 M154.5,258.4 L160.7,258.4 M1012.0,258.4 L1005.8,258.4 M154.5,226.6 L157.8,226.6 M1012.0,226.6 L1008.7,226.6 M154.5,194.8 L157.8,194.8 M1012.0,194.8 L1008.7,194.8 M154.5,163.0 L157.8,163.0 M1012.0,163.0 L1008.7,163.0 M154.5,131.2 L157.8,131.2 M1012.0,131.2 L1008.7,131.2 M154.5,99.4 L160.7,99.4 M1012.0,99.4 L1005.8,99.4" stroke="#555" stroke-width="1.7" fill="none"/>
<rect x="154.5" y="73" width="857.5" height="529.2" fill="none" stroke="#000" stroke-width="2.9"/>
<!-- title, tick labels, legend labels, annotations -->
<text x="302.3" y="43.8" font-size="37.5" font-style="italic" class="phi" textLength="30.4" lengthAdjust="spacingAndGlyphs">ϕ</text>
<text x="334.9" y="43.6" font-size="41.5" textLength="91.5" lengthAdjust="spacingAndGlyphs">=0.1,</text>
<text x="437.8" y="43.6" font-size="41.5" textLength="157.5" lengthAdjust="spacingAndGlyphs">Ha=100,</text>
<text x="609.8" y="43.6" font-size="41.5" font-style="italic" textLength="25.4" lengthAdjust="spacingAndGlyphs">α</text>
<text x="636.8" y="43.6" font-size="41.5" textLength="47.0" lengthAdjust="spacingAndGlyphs">=5</text>
<text x="684.8" y="25.8" font-size="32.5" textLength="14.7" lengthAdjust="spacingAndGlyphs">0</text>
<text x="704.3" y="43.6" font-size="41.5">,</text>
<text x="727.5" y="43.6" font-size="41.5" textLength="124.5" lengthAdjust="spacingAndGlyphs">Ec=0.1</text>
<text x="86.9" y="112.5" font-size="41" textLength="55.3" lengthAdjust="spacingAndGlyphs">1.0</text>
<text x="86.1" y="271.2" font-size="41" textLength="56.1" lengthAdjust="spacingAndGlyphs">0.5</text>
<text x="85.5" y="430.3" font-size="41" textLength="56.5" lengthAdjust="spacingAndGlyphs">0.0</text>
<text x="59.6" y="589.0" font-size="41" textLength="82.4" lengthAdjust="spacingAndGlyphs">−0.5</text>
<text x="142.1" y="649.1" font-size="41" textLength="56.1" lengthAdjust="spacingAndGlyphs">0.0</text>
<text x="306.5" y="649.1" font-size="41" textLength="57.4" lengthAdjust="spacingAndGlyphs">0.2</text>
<text x="470.6" y="649.1" font-size="41" textLength="57.7" lengthAdjust="spacingAndGlyphs">0.4</text>
<text x="635.9" y="649.1" font-size="41" textLength="56.3" lengthAdjust="spacingAndGlyphs">0.6</text>
<text x="801.2" y="649.1" font-size="41" textLength="56.6" lengthAdjust="spacingAndGlyphs">0.8</text>
<text x="965.6" y="649.1" font-size="41" textLength="54.6" lengthAdjust="spacingAndGlyphs">1.0</text>
<text x="570.5" y="710.7" font-size="40.5" font-style="italic" textLength="23.8" lengthAdjust="spacingAndGlyphs">η</text>
<text x="264.6" y="499.9" font-size="36" textLength="137.7" lengthAdjust="spacingAndGlyphs">Copper−</text>
<text x="405.2" y="499.9" font-size="36" textLength="99.0" lengthAdjust="spacingAndGlyphs">Water</text>
<text x="263.4" y="560.9" font-size="36" textLength="110.4" lengthAdjust="spacingAndGlyphs">Silver−</text>
<text x="376.2" y="560.9" font-size="36" textLength="98.8" lengthAdjust="spacingAndGlyphs">Water</text>
<text x="716.6" y="128.2" font-size="36" textLength="277.5" lengthAdjust="spacingAndGlyphs">Re=30,60,90,120</text>
<text x="890.5" y="364.9" font-size="36" textLength="96.0" lengthAdjust="spacingAndGlyphs">S=0.5</text>
<text x="883.3" y="444.7" font-size="36" textLength="117.9" lengthAdjust="spacingAndGlyphs">S=−0.5</text>
<!-- y axis label -->
<text font-size="43.5" text-anchor="middle" transform="translate(38.2,336.8) rotate(-90)">F(<tspan font-style="italic">η</tspan>)</text>
<!-- legend -->
<rect x="179.8" y="459.4" width="342.2" height="125.4" rx="7" ry="7" fill="none" stroke="#000" stroke-width="3"/>
<line x1="195.3" y1="491.8" x2="246.4" y2="491.8" stroke="#00ffff" stroke-width="5.2"/>
<path d="M195.7,553.8 H214.9 M236.4,553.8 H245.8" stroke="#ff00ff" stroke-width="4.7" fill="none"/>
<!-- annotations -->
<ellipse cx="919.7" cy="264.6" rx="31.8" ry="46.4" fill="none" stroke="#000" stroke-width="3.3"/>
<ellipse cx="910.7" cy="509.2" rx="34.9" ry="46.3" fill="none" stroke="#000" stroke-width="3.3"/>
<line x1="874.0" y1="169.9" x2="766.3" y2="333.6" stroke="#000" stroke-width="3.9"/><path d="M749.9,358.6 L760.4,326.8 L766.3,333.6 L774.9,336.4 Z" fill="#000"/>
<line x1="835.6" y1="399.3" x2="748.6" y2="512.8" stroke="#000" stroke-width="3.9"/><path d="M730.4,536.5 L743.1,505.6 L748.6,512.8 L757.0,516.2 Z" fill="#000"/>
</svg>
</body></html>
